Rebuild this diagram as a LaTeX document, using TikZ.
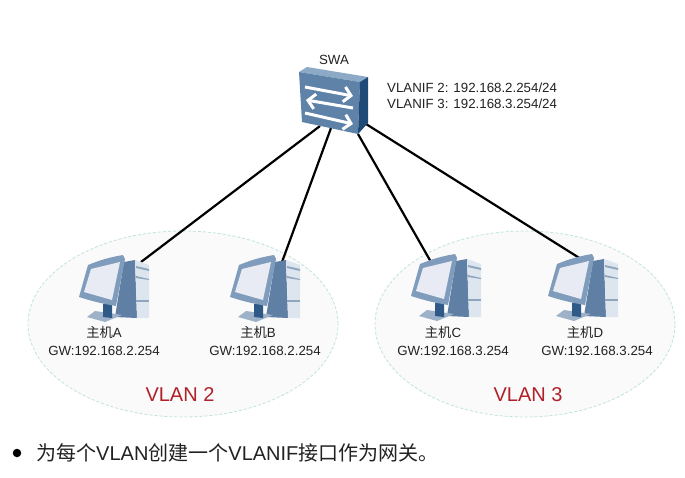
\documentclass[tikz,border=0pt]{standalone}
\usepackage{fontspec}
\usetikzlibrary{shapes.geometric,arrows.meta}
\setmainfont{Liberation Sans}
\newfontfamily\cjk{Noto Sans CJK SC}
\definecolor{txt}{HTML}{222222}
\definecolor{vred}{HTML}{B02028}
\definecolor{swfront}{HTML}{5F82A8}
\definecolor{swtop}{HTML}{8CA9C6}
\definecolor{swside}{HTML}{1F4A78}
\definecolor{zoneline}{HTML}{BFE3E0}
\definecolor{zonefill}{HTML}{FAFAFA}
\definecolor{hmon}{HTML}{7F9CBC}
\definecolor{hscreen}{HTML}{E8EBF3}
\definecolor{hside}{HTML}{5F7FA5}
\definecolor{htower}{HTML}{DDE6EF}
\definecolor{hline}{HTML}{8FA6BE}
\definecolor{hfoot}{HTML}{9DB2C9}
\definecolor{hneck}{HTML}{2F5A88}
\tikzset{
  x=1pt,y=-1pt,
  zone/.style={ellipse,draw=zoneline,fill=zonefill,densely dashed,line width=0.8pt,inner sep=0pt},
  link/.style={line width=2.2pt,black},
  hostlabel/.style={font=\fontsize{13.3}{15}\selectfont,text=txt,inner sep=0pt},
  vlanlabel/.style={font=\fontsize{20}{22}\selectfont,text=vred,inner sep=0pt},
  iflabel/.style={font=\fontsize{13.3}{15}\selectfont,text=txt,inner sep=0pt,anchor=west},
  swarrow/.style={draw=white,line width=3pt,-{Straight Barb[length=7pt,width=15pt,line width=3pt]}},
  pics/host/.style={code={
    \fill[hside] (24,-28)--(35,-30)--(37,28)--(15,27)--cycle;
    \fill[htower] (35,-30)--(49,-25)--(49,28)--(37,28)--cycle;
    \fill[hline] (36,-24)--(49,-21)--(49,-19)--(36,-22)--cycle;
    \fill[hline] (36,-14)--(49,-11)--(49,-10)--(36,-12)--cycle;
    \fill[hline] (36,10)--(49,10)--(49,11.5)--(36,11.5)--cycle;
    \fill[hfoot] (-13,27)--(-5,21)--(22,25)--(5,32)--cycle;
    \fill[hneck] (3,14)--(12,14)--(12,28)--(3,27)--cycle;
    \fill[hmon] (-12,-25) to[bend left=6] (23,-35) -- (25,-31) -- (16,16) to[bend left=4] (-21,7) -- cycle;
    \fill[hscreen] (-9,-21)--(20,-28)--(12,10)--(-16,2)--cycle;
  }}
}
\begin{document}
\begin{tikzpicture}
\useasboundingbox (0,0) rectangle (685,477);
\fill[white] (0,0) rectangle (685,477);
% zones
\node[zone,minimum width=310pt,minimum height=186pt] (zoneL) at (183,324) {};
\node[zone,minimum width=300pt,minimum height=186pt] (zoneR) at (525,324) {};
% anchors for connectors
\coordinate (swa) at (320,126);
\coordinate (swb) at (331,128);
\coordinate (swc) at (358,134);
\coordinate (swd) at (366,124);
\coordinate (hostA) at (141,262);
\coordinate (hostB) at (282,262);
\coordinate (hostC) at (431,262);
\coordinate (hostD) at (581,259);
\draw[link] (swa) -- (hostA);
\draw[link] (swb) -- (hostB);
\draw[link] (swc) -- (hostC);
\draw[link] (swd) -- (hostD);
% hosts
\pic at (100,290) {host};
\pic at (251,290) {host};
\pic at (432,289) {host};
\pic at (569,289) {host};
% switch
\fill[swtop] (299,72)--(307,67)--(368,77)--(360,82)--cycle;
\fill[swfront] (299,72)--(360,82)--(358,134)--(302,122)--cycle;
\fill[swside] (360,82)--(368,77)--(368,123)--(358,134)--cycle;
\coordinate (a1) at (305,87); \coordinate (a2) at (353,96);
\coordinate (b1) at (353,108); \coordinate (b2) at (306,100);
\coordinate (c1) at (305,113); \coordinate (c2) at (353,124);
\draw[swarrow] (a1) -- (a2);
\draw[swarrow] (b1) -- (b2);
\draw[swarrow] (c1) -- (c2);
% texts
\node[hostlabel] (swaname) at (334,60) {SWA};
\node[iflabel] (if2) at (387,88) {VLANIF 2: 192.168.2.254/24};
\node[iflabel] (if3) at (387,104) {VLANIF 3: 192.168.3.254/24};
\node[hostlabel] (nA) at (104,332) {{\cjk 主机}A};
\node[hostlabel] (gA) at (104,351) {GW:192.168.2.254};
\node[hostlabel] (nB) at (258,332) {{\cjk 主机}B};
\node[hostlabel] (gB) at (265,351) {GW:192.168.2.254};
\node[hostlabel] (nC) at (443,332) {{\cjk 主机}C};
\node[hostlabel] (gC) at (453,351) {GW:192.168.3.254};
\node[hostlabel] (nD) at (585,332) {{\cjk 主机}D};
\node[hostlabel] (gD) at (597,351) {GW:192.168.3.254};
\node[vlanlabel] (v2) at (180,395) {VLAN 2};
\node[vlanlabel] (v3) at (528,395) {VLAN 3};
% bullet
\node[circle,fill=black,minimum size=8.5pt,inner sep=0pt] (dot) at (17,453) {};
\node[font=\fontsize{20}{22}\selectfont,text=txt,inner sep=0pt,anchor=west] (note) at (36,453) {{\cjk 为每个}VLAN{\cjk 创建一个}VLANIF{\cjk 接口作为网关。}};
\end{tikzpicture}
\end{document}
